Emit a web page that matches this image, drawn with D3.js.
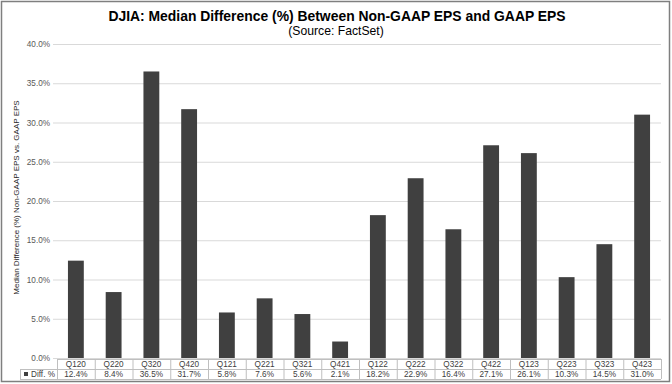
<!DOCTYPE html>
<html><head><meta charset="utf-8">
<script src="https://cdn.jsdelivr.net/npm/d3@7"></script>
<style>body{margin:0;background:#fff}svg{display:block;font-family:"Liberation Sans",Arial,sans-serif}</style>
</head><body><svg id="c" width="672" height="384"></svg>
<script>
const categories = ["Q120","Q220","Q320","Q420","Q121","Q221","Q321","Q421","Q122","Q222","Q322","Q422","Q123","Q223","Q323","Q423"];
const values = [12.4,8.4,36.5,31.7,5.8,7.6,5.6,2.1,18.2,22.9,16.4,27.1,26.1,10.3,14.5,31.0];
const yTicks = [0,5,10,15,20,25,30,35,40];
const seriesName = "Diff. %";
const title = "DJIA: Median Difference (%) Between Non-GAAP EPS and GAAP EPS";
const subtitle = "(Source: FactSet)";
const yTitle = "Median Difference (%) Non-GAAP EPS vs. GAAP EPS";

const svg = d3.select("#c");
const L = 57, R = 661, T = 44, B = 358;
const x = d3.scaleBand().domain(categories).range([L, R]).paddingInner(0.58).paddingOuter(0.29);
const xc = d3.scaleBand().domain(categories).range([L, R]);
const y = d3.scaleLinear().domain([0, 40]).range([B, T]);

// frame
svg.append("rect").attr("x",1.5).attr("y",1.5).attr("width",668).attr("height",380)
  .attr("fill","none").attr("stroke","#7f7f7f").attr("stroke-width",1.5);

svg.append("text").attr("x",337).attr("y",21).attr("text-anchor","middle")
  .attr("font-weight","bold").attr("font-size",13.9).attr("fill","#000").text(title);
svg.append("text").attr("x",336).attr("y",35).attr("text-anchor","middle")
  .attr("font-size",12.2).attr("fill","#000").text(subtitle);

// gridlines
const yAxis = d3.axisLeft(y).tickValues(yTicks).tickSize(-(R - 53)).tickFormat(d => d.toFixed(1) + "%").tickPadding(3);
const ga = svg.append("g").attr("transform",`translate(53,0)`).call(yAxis);
ga.select(".domain").remove();
ga.selectAll(".tick line").attr("stroke","#d9d9d9").attr("stroke-width",1);
ga.selectAll(".tick text").attr("font-size",8.2).attr("fill","#595959").attr("font-family","Liberation Sans, Arial, sans-serif");

svg.append("text").attr("transform",`translate(19,${(105+290)/2}) rotate(-90)`)
  .attr("text-anchor","middle").attr("font-size",8).attr("fill","#262626").text(yTitle);

// bars
svg.append("g").selectAll("rect").data(values).join("rect")
  .attr("x",(d,i)=>x(categories[i])).attr("width",x.bandwidth())
  .attr("y",d=>y(d)).attr("height",d=>B - y(d)).attr("fill","#404040");

// data table
const r1 = 359, r2 = 369, r3 = 379, legL = 20;
const tg = svg.append("g").attr("stroke","#bfbfbf").attr("stroke-width",1).attr("fill","none");
tg.append("line").attr("x1",L).attr("x2",R).attr("y1",r1+0.5).attr("y2",r1+0.5);
tg.append("line").attr("x1",legL).attr("x2",R).attr("y1",r2+0.5).attr("y2",r2+0.5);
tg.append("line").attr("x1",legL).attr("x2",R).attr("y1",r3+0.5).attr("y2",r3+0.5);
tg.append("line").attr("x1",legL+0.5).attr("x2",legL+0.5).attr("y1",r2).attr("y2",r3);
categories.forEach((c,i)=>{
  tg.append("line").attr("x1",xc(c)+0.5).attr("x2",xc(c)+0.5).attr("y1",r1).attr("y2",r3);
});
tg.append("line").attr("x1",R+0.5).attr("x2",R+0.5).attr("y1",r1).attr("y2",r3);

const txt = svg.append("g").attr("font-size",8.2).attr("fill","#404040").attr("text-anchor","middle");
categories.forEach((c,i)=>{
  txt.append("text").attr("x",xc(c)+xc.bandwidth()/2).attr("y",r1+8).text(c);
  txt.append("text").attr("x",xc(c)+xc.bandwidth()/2).attr("y",r2+8).text(values[i].toFixed(1)+"%");
});
svg.append("rect").attr("x",legL+4).attr("y",r2+3).attr("width",4).attr("height",4).attr("fill","#404040");
svg.append("text").attr("x",legL+11).attr("y",r2+8).attr("font-size",8.2).attr("fill","#404040").text(seriesName);
</script></body></html>
